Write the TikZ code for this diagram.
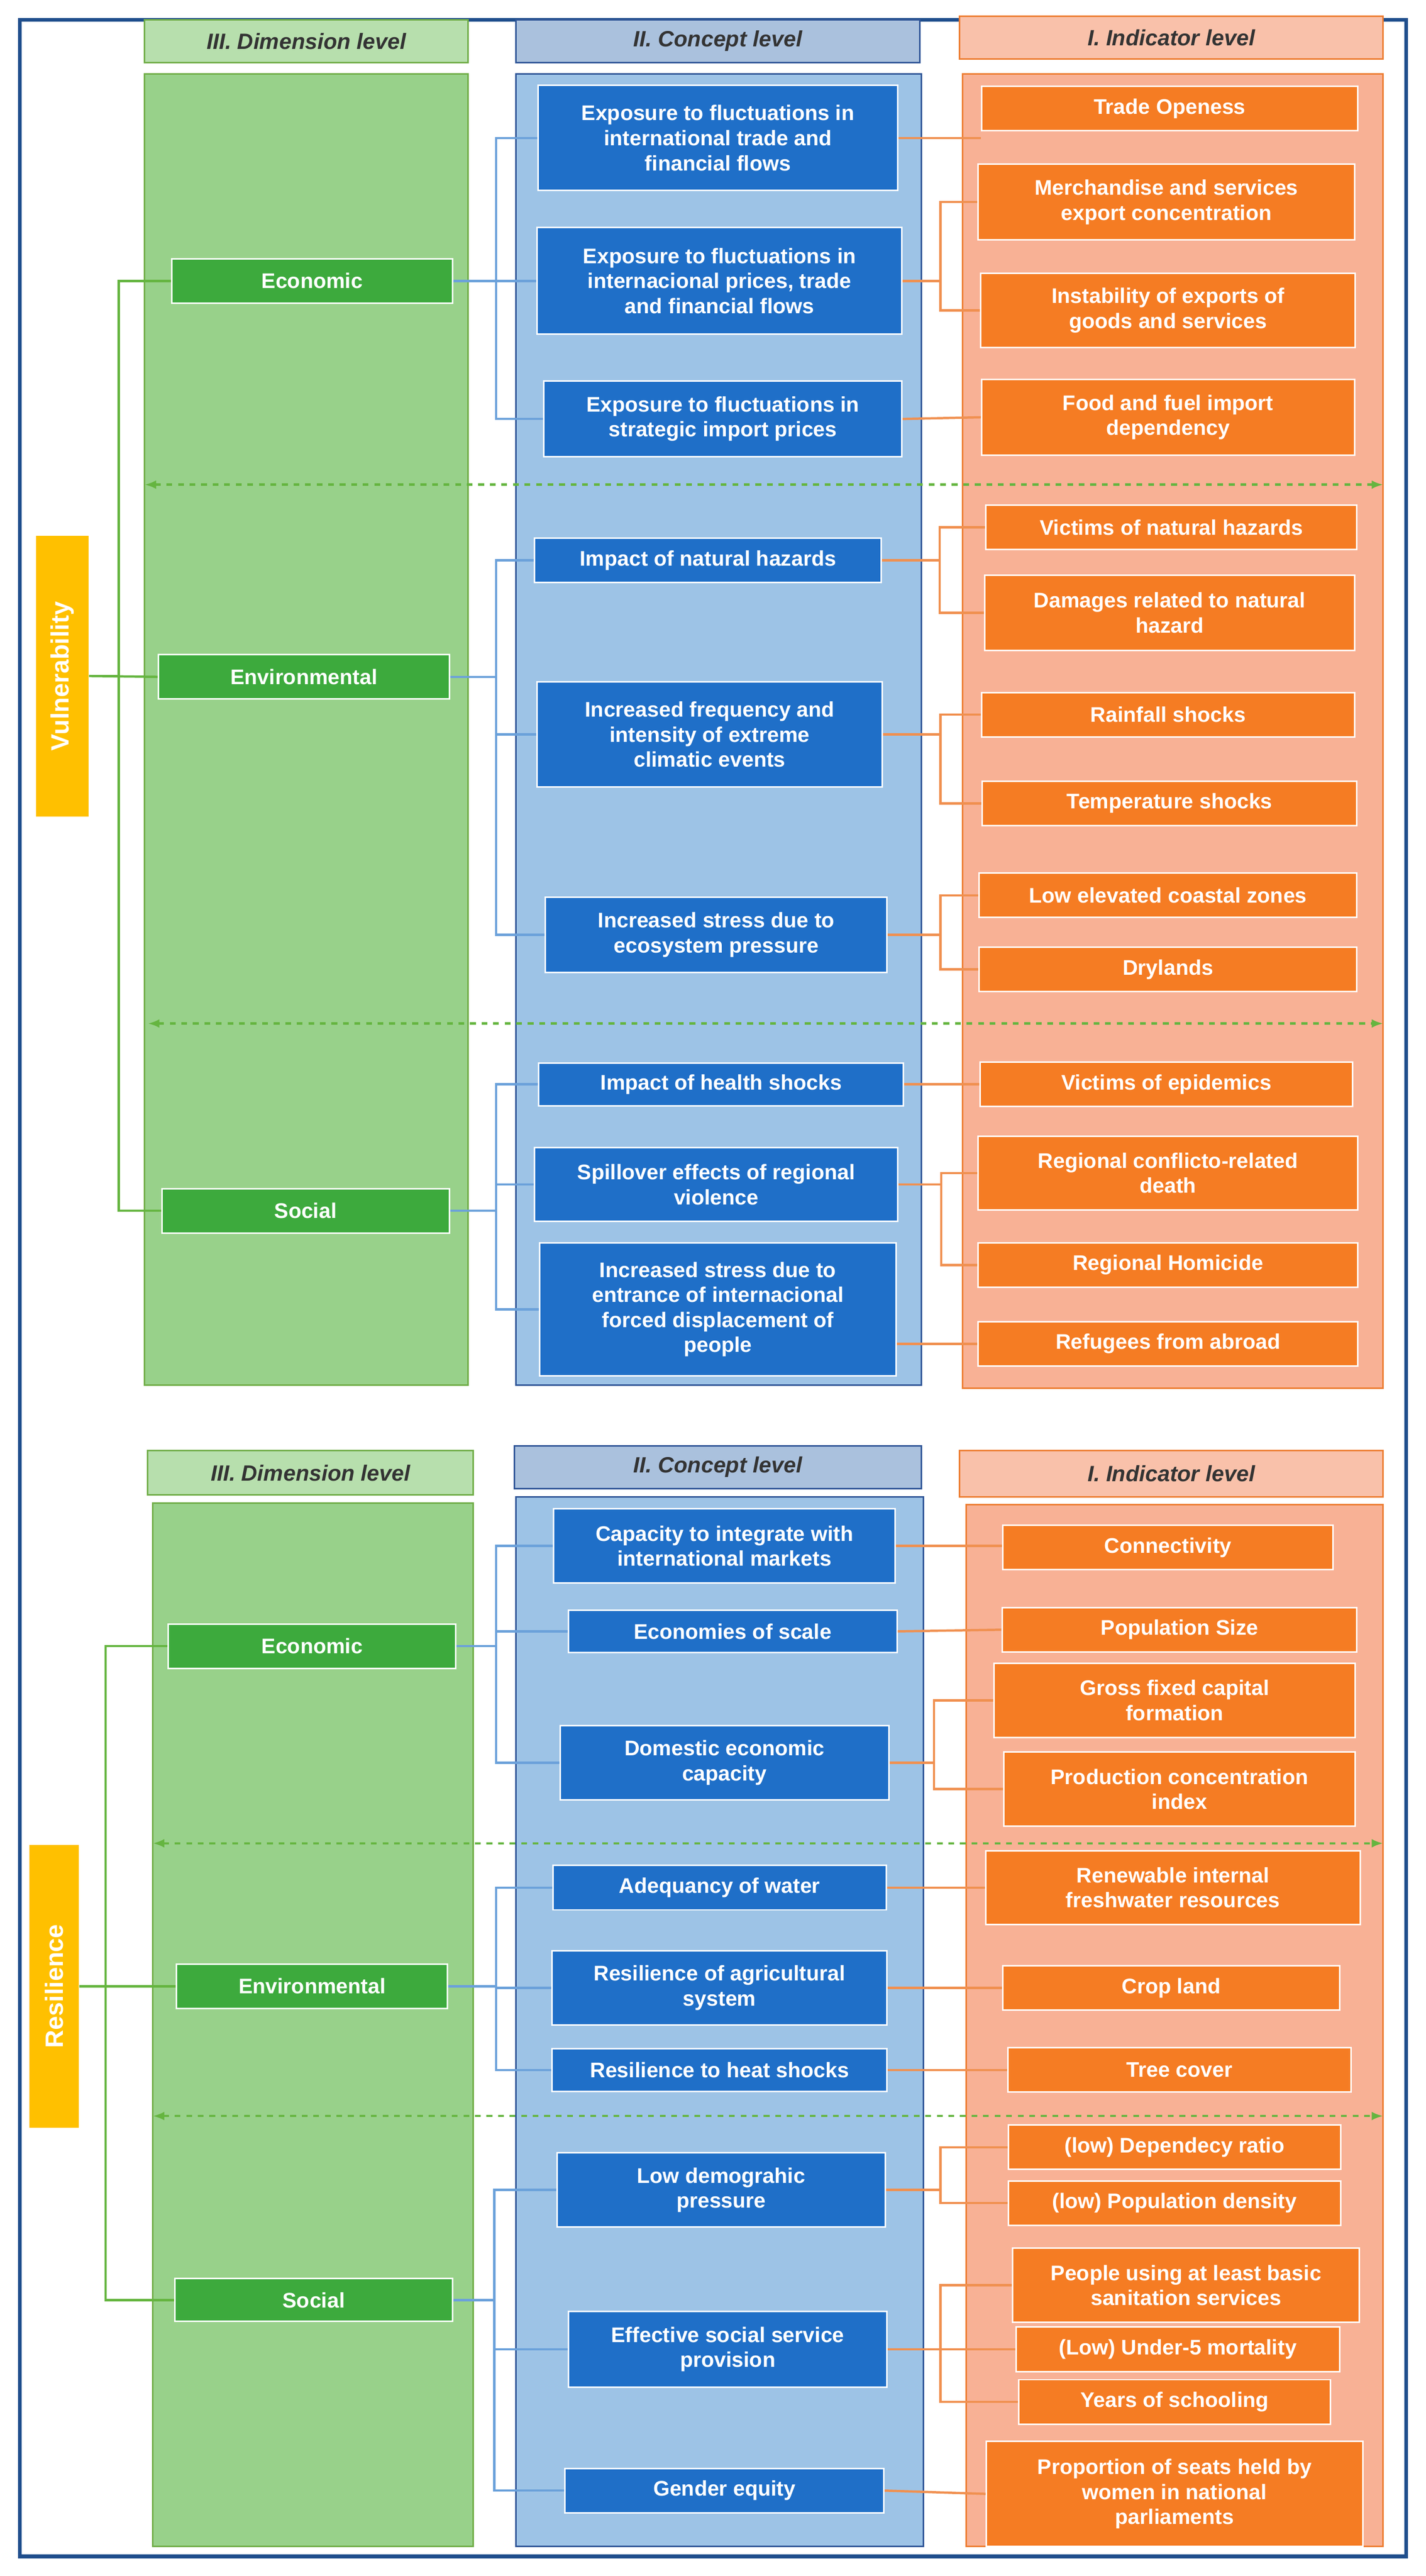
\documentclass[tikz,border=0pt]{standalone}
\usepackage{fontspec}
\setmainfont{Liberation Sans}
\usepackage{tikz}
\usetikzlibrary{calc, arrows.meta}
\definecolor{gdark}{HTML}{3DAA3D}
\definecolor{bdark}{HTML}{1F6FC8}
\definecolor{odark}{HTML}{F57C23}
\definecolor{gcolfill}{HTML}{98D18A}
\definecolor{bcolfill}{HTML}{9DC3E6}
\definecolor{ocolfill}{HTML}{F8B195}
\definecolor{gedge}{HTML}{70AD47}
\definecolor{bedge}{HTML}{2F5597}
\definecolor{oedge}{HTML}{ED7D31}
\definecolor{frame}{HTML}{1F4E8C}
\tikzstyle{box} = [draw=white, line width=0.8pt, text=white, font=\fontsize{11}{13}\selectfont\bfseries, align=center, inner sep=1pt]
\tikzstyle{dim} = [box, fill=gdark]
\tikzstyle{concept} = [box, fill=bdark]
\tikzstyle{indicator} = [box, fill=odark]
\tikzstyle{head} = [draw, line width=0.8pt, font=\fontsize{11.5}{13}\selectfont\bfseries\itshape, text=black!80]
\tikzstyle{column} = [draw, line width=0.8pt]
\tikzstyle{group} = [fill=orange!30!yellow, fill={rgb,255:red,255;green,192;blue,0}, text=white, font=\fontsize{13}{15}\selectfont\bfseries]
\tikzstyle{gline} = [draw=gedge!90!green, line width=1.2pt]
\tikzstyle{bline} = [draw=bcolfill!60!bdark, line width=1.2pt]
\tikzstyle{oline} = [draw=oedge!85!white, line width=1.2pt]
\tikzstyle{dline} = [draw=gedge!90!green, line width=1.2pt, dashed, {Latex[length=6pt]}-{Latex[length=6pt]}]
\tikzset{w/.style={minimum width=#1*0.03cm}, h/.style={minimum height=#1*0.03cm}}

\begin{document}
\begin{tikzpicture}[x=0.03cm, y=-0.03cm]
\useasboundingbox (0,0) rectangle (868,1568);
\draw[frame, line width=2pt] (12,12) rectangle (856,1556);

% vulnerability part
\node[head, fill=gcolfill!70!white, draw=gedge, w=197, h=26] (hd1) at (186.5,25) {III. Dimension level};
\node[head, fill=bcolfill!60!bedge!60!white, draw=bedge, w=246, h=26] (hc1) at (437,25) {II. Concept level};
\node[head, fill=ocolfill!80!white, draw=oedge, w=258, h=26] (hi1) at (713,23) {I. Indicator level};
\draw[column, fill=gcolfill, draw=gedge] (88,45) rectangle (285,843);
\draw[column, fill=bcolfill, draw=bedge] (314,45) rectangle (561,843);
\draw[column, fill=ocolfill, draw=oedge] (586,45) rectangle (842,845);
\node[group, w=171, h=32, rotate=90] (vul) at (38,411.5) {Vulnerability};

\node[dim, w=171, h=27] (eco) at (190,171) {Economic};
\node[dim, w=177, h=27] (env) at (185,412) {Environmental};
\node[dim, w=175, h=27] (soc) at (186,737) {Social};

\node[concept, w=219, h=64] (c1) at (437,84) {Exposure to fluctuations in\\international trade and\\financial flows};
\node[concept, w=222, h=65] (c2) at (438,171) {Exposure to fluctuations in\\internacional prices, trade\\and financial flows};
\node[concept, w=218, h=46] (c3) at (440,255) {Exposure to fluctuations in\\strategic import prices};
\node[concept, w=211, h=27] (c4) at (431,341) {Impact of natural hazards};
\node[concept, w=210, h=64] (c5) at (432,447) {Increased frequency and\\intensity of extreme\\climatic events};
\node[concept, w=208, h=46] (c6) at (436,569) {Increased stress due to\\ecosystem pressure};
\node[concept, w=222, h=26] (c7) at (439,660) {Impact of health shocks};
\node[concept, w=221, h=45] (c8) at (436,721) {Spillover effects of regional\\violence};
\node[concept, w=217, h=81] (c9) at (437,797) {Increased stress due to\\entrance of internacional\\forced displacement of\\people};

\node[indicator, w=229, h=27] (i1) at (712,66) {Trade Openess};
\node[indicator, w=229, h=46] (i2) at (710,123) {Merchandise and services\\export concentration};
\node[indicator, w=228, h=45] (i3) at (711,189) {Instability of exports of\\goods and services};
\node[indicator, w=227, h=46] (i4) at (711,254) {Food and fuel import\\dependency};
\node[indicator, w=226, h=27] (i5) at (713,321) {Victims of natural hazards};
\node[indicator, w=225, h=46] (i6) at (712,373) {Damages related to natural\\hazard};
\node[indicator, w=227, h=27] (i7) at (711,435) {Rainfall shocks};
\node[indicator, w=228, h=27] (i8) at (712,489) {Temperature shocks};
\node[indicator, w=230, h=27] (i9) at (711,545) {Low elevated coastal zones};
\node[indicator, w=230, h=27] (i10) at (711,590) {Drylands};
\node[indicator, w=227, h=27] (i11) at (710,660) {Victims of epidemics};
\node[indicator, w=231, h=45] (i12) at (711,714) {Regional conflicto-related\\death};
\node[indicator, w=231, h=27] (i13) at (711,770) {Regional Homicide};
\node[indicator, w=231, h=27] (i14) at (711,818) {Refugees from abroad};

\draw[gline] (vul.south) -- ++(18,0) |- (eco.west);
\draw[gline] (vul.south) -- (env.west);
\draw[gline] (vul.south) -- ++(18,0) |- (soc.west);
\foreach \c in {c1,c2,c3} \draw[bline] (eco.east) -- ++(26,0) |- (\c.west);
\foreach \c in {c4,c5,c6} \draw[bline] (env.east) -- ++(28,0) |- (\c.west);
\foreach \c in {c7,c8,c9} \draw[bline] (soc.east) -- ++(28,0) |- (\c.west);
\draw[oline] (c1.east) -- (c1.east -| i1.west);
\draw[oline] (c2.east) -- ++(23,0) |- (i2.west);
\draw[oline] (c2.east) -- ++(23,0) |- (i3.west);
\draw[oline] (c3.east) -- (i4.west);
\draw[oline] (c4.east) -- ++(35,0) |- (i5.west);
\draw[oline] (c4.east) -- ++(35,0) |- (i6.west);
\draw[oline] (c5.east) -- ++(35,0) |- (i7.west);
\draw[oline] (c5.east) -- ++(35,0) |- (i8.west);
\draw[oline] (c6.east) -- ++(32,0) |- (i9.west);
\draw[oline] (c6.east) -- ++(32,0) |- (i10.west);
\draw[oline] (c7.east) -- (i11.west);
\draw[oline] (c8.east) -- ++(26,0) |- (i12.west);
\draw[oline] (c8.east) -- ++(26,0) |- (i13.west);
\draw[oline] (c9.east |- i14.west) -- (i14.west);

\coordinate (da1) at (88,295); \coordinate (db1) at (842,295);
\coordinate (da2) at (90,623); \coordinate (db2) at (842,623);
\draw[dline] (da1) -- (db1);
\draw[dline] (da2) -- (db2);

% resilience part
\node[head, fill=gcolfill!70!white, draw=gedge, w=198, h=27] (hd2) at (189,896.5) {III. Dimension level};
\node[head, fill=bcolfill!60!bedge!60!white, draw=bedge, w=248, h=26] (hc2) at (437,893) {II. Concept level};
\node[head, fill=ocolfill!80!white, draw=oedge, w=258, h=28] (hi2) at (713,897) {I. Indicator level};
\draw[column, fill=gcolfill, draw=gedge] (93,915) rectangle (288,1550);
\draw[column, fill=bcolfill, draw=bedge] (314,911) rectangle (562,1550);
\draw[column, fill=ocolfill, draw=oedge] (588,916) rectangle (842,1550);
\node[group, w=172, h=30, rotate=90] (res) at (33,1209) {Resilience};

\node[dim, w=175, h=27] (reco) at (190,1002) {Economic};
\node[dim, w=165, h=27] (renv) at (190,1209) {Environmental};
\node[dim, w=169, h=26] (rsoc) at (191,1400) {Social};

\node[concept, w=208, h=45] (r1) at (441,941) {Capacity to integrate with\\international markets};
\node[concept, w=200, h=26] (r2) at (446,993) {Economies of scale};
\node[concept, w=200, h=45] (r3) at (441,1073) {Domestic economic\\capacity};
\node[concept, w=203, h=27] (r4) at (438,1149) {Adequancy of water};
\node[concept, w=204, h=45] (r5) at (438,1210) {Resilience of agricultural\\system};
\node[concept, w=204, h=26] (r6) at (438,1260) {Resilience to heat shocks};
\node[concept, w=200, h=45] (r7) at (439,1333) {Low demograhic\\pressure};
\node[concept, w=194, h=46] (r8) at (443,1430) {Effective social service\\provision};
\node[concept, w=194, h=27] (r9) at (441,1516) {Gender equity};

\node[indicator, w=201, h=27] (j1) at (711,942) {Connectivity};
\node[indicator, w=216, h=27] (j2) at (718,992) {Population Size};
\node[indicator, w=220, h=45] (j3) at (715,1035) {Gross fixed capital\\formation};
\node[indicator, w=214, h=45] (j4) at (718,1089) {Production concentration\\index};
\node[indicator, w=228, h=45] (j5) at (714,1149) {Renewable internal\\freshwater resources};
\node[indicator, w=205, h=27] (j6) at (713,1210) {Crop land};
\node[indicator, w=209, h=27] (j7) at (718,1260) {Tree cover};
\node[indicator, w=202, h=27] (j8) at (715,1307) {(low) Dependecy ratio};
\node[indicator, w=202, h=27] (j9) at (715,1341) {(low) Population density};
\node[indicator, w=211, h=45] (j10) at (722,1391) {People using at least basic\\sanitation services};
\node[indicator, w=197, h=27] (j11) at (717,1430) {(Low) Under-5 mortality};
\node[indicator, w=190, h=27] (j12) at (715,1462) {Years of schooling};
\node[indicator, w=229, h=64] (j13) at (715,1518) {Proportion of seats held by\\women in national\\parliaments};

\draw[gline] (res.south) -- ++(16,0) |- (reco.west);
\draw[gline] (res.south) -- (renv.west);
\draw[gline] (res.south) -- ++(16,0) |- (rsoc.west);
\foreach \c in {r1,r2,r3} \draw[bline] (reco.east) -- ++(24,0) |- (\c.west);
\foreach \c in {r4,r5,r6} \draw[bline] (renv.east) -- ++(29,0) |- (\c.west);
\foreach \c in {r7,r8,r9} \draw[bline] (rsoc.east) -- ++(25,0) |- (\c.west);
\draw[oline] (r1.east) -- (r1.east -| j1.west);
\draw[oline] (r2.east) -- (j2.west);
\draw[oline] (r3.east) -- ++(27,0) |- (j3.west);
\draw[oline] (r3.east) -- ++(27,0) |- (j4.west);
\draw[oline] (r4.east) -- (j5.west);
\draw[oline] (r5.east) -- (j6.west);
\draw[oline] (r6.east) -- (j7.west);
\draw[oline] (r7.east) -- ++(33,0) |- (j8.west);
\draw[oline] (r7.east) -- ++(33,0) |- (j9.west);
\draw[oline] (r8.east) -- ++(32,0) |- (j10.west);
\draw[oline] (r8.east) -- ++(32,0) |- (j11.west);
\draw[oline] (r8.east) -- ++(32,0) |- (j12.west);
\draw[oline] (r9.east) -- (j13.west);

\coordinate (da3) at (93,1122); \coordinate (db3) at (842,1122);
\coordinate (da4) at (93,1288); \coordinate (db4) at (842,1288);
\draw[dline] (da3) -- (db3);
\draw[dline] (da4) -- (db4);
\end{tikzpicture}
\end{document}
